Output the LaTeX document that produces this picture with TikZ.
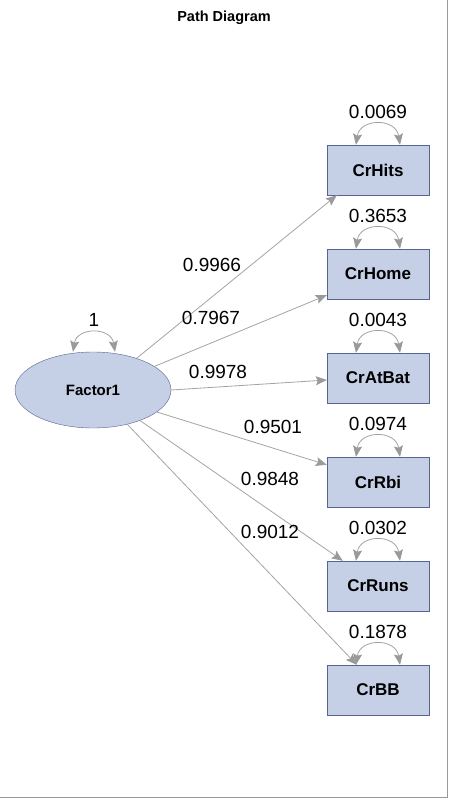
\documentclass[tikz,border=0pt]{standalone}
\usepackage{fontspec}
\setmainfont{Liberation Sans}
\usetikzlibrary{shapes.geometric,arrows.meta,calc}
\definecolor{boxfill}{HTML}{C5CFE6}
\definecolor{boxline}{HTML}{56648F}
\definecolor{conn}{HTML}{A3A3A3}
\definecolor{tip}{HTML}{9A9A9A}
\tikzset{
  var/.style={draw=boxline, fill=boxfill, minimum width=102pt, minimum height=50pt, inner sep=0pt, font=\fontsize{17}{19}\selectfont\bfseries},
  lat/.style={ellipse, draw=boxline, fill=boxfill, minimum width=156pt, minimum height=76pt, inner sep=0pt, font=\fontsize{15}{17}\selectfont\bfseries},
  num/.style={font=\fontsize{19}{21}\selectfont, inner sep=0pt},
  path/.style={draw=conn, line width=0.8pt, -{Stealth[length=11pt,width=9pt,inset=2pt,fill=tip,color=tip]}},
  varc/.style={draw=conn, line width=0.8pt, {Stealth[length=11pt,width=9pt,inset=2pt,fill=tip,color=tip]}-{Stealth[length=11pt,width=9pt,inset=2pt,fill=tip,color=tip]}}
}
\begin{document}
\begin{tikzpicture}[x=1pt,y=-1pt]
\useasboundingbox (0,0) rectangle (450,800);
\draw[color=gray!80, line width=1.2pt] (447.5,0) -- (447.5,797.5) -- (0,797.5);
\node[font=\fontsize{14.5}{16}\selectfont\bfseries] (title) at (224,18) {Path Diagram};

\node[lat] (f) at (93,390) {Factor1};
\node[var] (h1) at (378,170) {CrHits};
\node[var] (h2) at (378,274) {CrHome};
\node[var] (h3) at (378,378) {CrAtBat};
\node[var] (h4) at (378,482) {CrRbi};
\node[var] (h5) at (378,586) {CrRuns};
\node[var] (h6) at (378,690) {CrBB};

% error variances
\foreach \b/\v in {h1/0.0069,h2/0.3653,h3/0.0043,h4/0.0974,h5/0.0302,h6/0.1878}{
  \node[num] (v\b) at ($(\b.north)+(0,-33)$) {\v};
  \coordinate (l\b) at ($(\b.north)+(-22,0)$);
  \coordinate (r\b) at ($(\b.north)+(22,0)$);
  \draw[varc] (l\b) .. controls +(4,-27) and +(-4,-27) .. (r\b);
}
% factor variance
\node[num] (vf) at (94,320) {1};
\coordinate (lf) at ($(f.north)+(-20,0)$);
\coordinate (rf) at ($(f.north)+(22,0)$);
\draw[varc] (lf) .. controls +(4,-25) and +(-4,-25) .. (rf);

% loadings
\coordinate (e1) at ($(h1.south west)+(10,0)$);
\coordinate (e2) at ($(h2.south west)+(0,-4)$);
\coordinate (e3) at ($(h3.west)+(0,2)$);
\coordinate (e4) at ($(h4.north west)+(0,8)$);
\coordinate (e5) at ($(h5.north west)+(16,0)$);
\coordinate (e6) at ($(h6.north west)+(30,0)$);
\draw[path] (f.36) -- (e1);
\draw[path] (f.21) -- (e2);
\draw[path] (f.0) -- (e3);
\draw[path] (f.-19) -- (e4);
\draw[path] (f.-33) -- (e5);
\draw[path] (f.-45) -- (e6);

\node[num] (p1) at (212,265) {0.9966};
\node[num] (p2) at (211,318) {0.7967};
\node[num] (p3) at (218,372) {0.9978};
\node[num] (p4) at (273,427) {0.9501};
\node[num] (p5) at (270,479) {0.9848};
\node[num] (p6) at (270,532) {0.9012};
\end{tikzpicture}
\end{document}
